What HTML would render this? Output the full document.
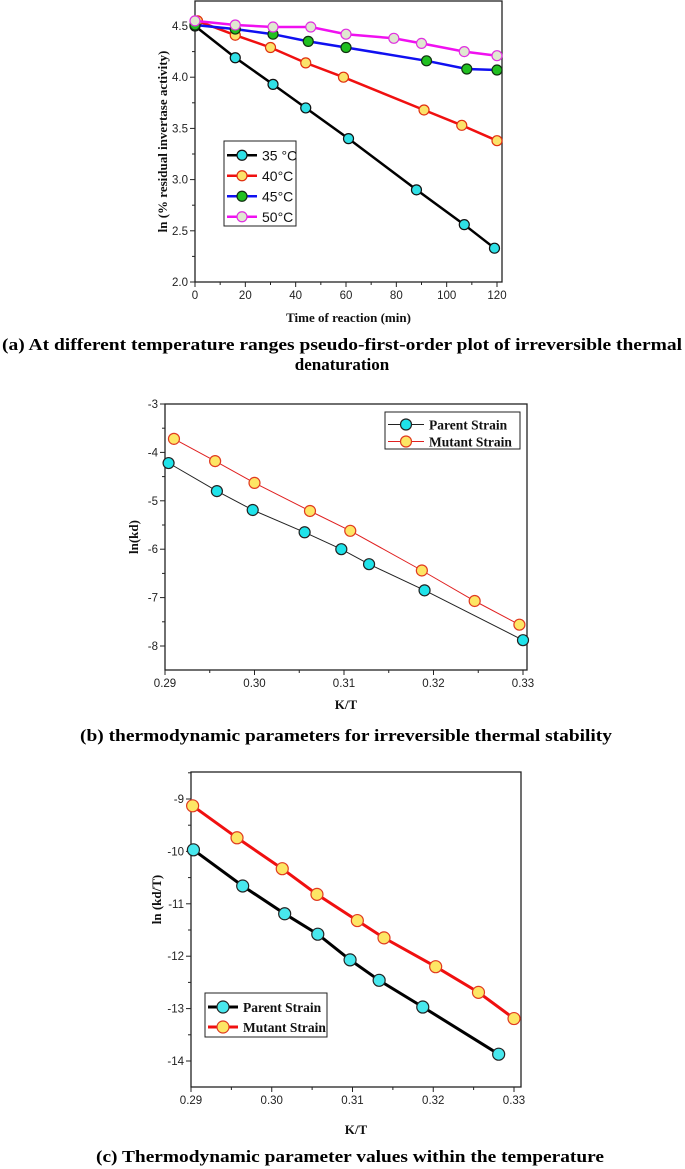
<!DOCTYPE html>
<html><head><meta charset="utf-8">
<style>
html,body{margin:0;padding:0;background:#fff;}
svg{display:block;}
.tk{font-family:"Liberation Sans",Arial,sans-serif;font-size:11.5px;fill:#222;}
.ttl{font-family:"Liberation Serif",serif;font-weight:bold;font-size:13px;fill:#111;}
.cap{font-family:"Liberation Serif",serif;font-weight:bold;font-size:17px;fill:#000;}
.lg{font-family:"Liberation Sans",Arial,sans-serif;font-size:14px;fill:#111;}
.lgs{font-family:"Liberation Serif",serif;font-weight:bold;font-size:13.5px;fill:#111;}
</style></head>
<body>
<svg id="fig" width="685" height="1169" viewBox="0 0 685 1169" xmlns="http://www.w3.org/2000/svg">
<g id="chartA"></g>
<g id="chartB"></g>
<g id="chartC"></g>
<text class="cap" x="342" y="350" text-anchor="middle" textLength="680" lengthAdjust="spacingAndGlyphs">(a)  At different temperature ranges pseudo-first-order plot of irreversible thermal</text>
<text class="cap" x="342" y="370" text-anchor="middle">denaturation</text>
<text class="cap" x="346" y="741" text-anchor="middle" textLength="532" lengthAdjust="spacingAndGlyphs">(b) thermodynamic parameters for irreversible thermal stability</text>
<text class="cap" x="350" y="1162" text-anchor="middle" textLength="508" lengthAdjust="spacingAndGlyphs">(c) Thermodynamic parameter values within the temperature</text>
</svg>
<script>
// ---- Chart A data ----
const aX35=[0,16,31,44,61,88,107,119];
const aY35=[4.5,4.19,3.93,3.70,3.40,2.90,2.56,2.33];
const aX40=[1,16,30,44,59,91,106,120];
const aY40=[4.55,4.41,4.29,4.14,4.0,3.68,3.53,3.38];
const aX45=[0,16,31,45,60,92,108,120];
const aY45=[4.51,4.47,4.42,4.35,4.29,4.16,4.08,4.07];
const aX50=[0,16,31,46,60,79,90,107,120];
const aY50=[4.55,4.51,4.49,4.49,4.42,4.38,4.33,4.25,4.21];
const aXTicks=[0,20,40,60,80,100,120];
const aYTicks=[2.0,2.5,3.0,3.5,4.0,4.5];
// ---- Chart B data ----
const bXP=[0.2904,0.2958,0.2998,0.3056,0.3097,0.3128,0.3190,0.3300];
const bYP=[-4.22,-4.80,-5.19,-5.65,-6.00,-6.31,-6.85,-7.88];
const bXM=[0.2910,0.2956,0.3000,0.3062,0.3107,0.3187,0.3246,0.3296];
const bYM=[-3.72,-4.18,-4.63,-5.21,-5.62,-6.44,-7.07,-7.56];
const bXTicks=[0.29,0.30,0.31,0.32,0.33];
const bYTicks=[-3,-4,-5,-6,-7,-8];
// ---- Chart C data ----
const cXP=[0.2903,0.2964,0.3016,0.3057,0.3097,0.3133,0.3187,0.3281];
const cYP=[-9.97,-10.66,-11.19,-11.58,-12.07,-12.46,-12.97,-13.87];
const cXM=[0.2902,0.2957,0.3013,0.3056,0.3106,0.3139,0.3203,0.3256,0.3300];
const cYM=[-9.13,-9.74,-10.33,-10.82,-11.32,-11.65,-12.20,-12.69,-13.19];
const cXTicks=[0.29,0.30,0.31,0.32,0.33];
const cYTicks=[-9,-10,-11,-12,-13,-14];

const NS="http://www.w3.org/2000/svg";
function mk(tag,attrs,parent){const e=document.createElementNS(NS,tag);for(const k in attrs)e.setAttribute(k,attrs[k]);parent.appendChild(e);return e;}
function lin(d0,d1,r0,r1){return v=>r0+(v-d0)*(r1-r0)/(d1-d0);}

function axes(g,o){
  const box=mk('rect',{x:o.L,y:o.T,width:o.R-o.L,height:o.B-o.T,fill:'none',stroke:'#222','stroke-width':1.3},g);
  
  
  o.xt.forEach((v,i)=>{
    const x=o.sx(v);
    const t=mk('line',{x1:x,x2:x,y1:o.B,y2:o.B+5,stroke:'#222','stroke-width':1},g);
    
    
    const lb=mk('text',{x:x,y:o.B+17,'text-anchor':'middle',class:'tk'},g);
    lb.textContent=o.xf(v);
    
    
    if(i<o.xt.length-1){const xm=o.sx((v+o.xt[i+1])/2);
      const m=mk('line',{x1:xm,x2:xm,y1:o.B,y2:o.B+3,stroke:'#222'},g);
      
      }
  });
  o.yt.forEach((v,i)=>{
    const y=o.sy(v);
    const t=mk('line',{x1:o.L-5,x2:o.L,y1:y,y2:y,stroke:'#222'},g);
    
    
    const lb=mk('text',{x:o.L-7,y:y+4,'text-anchor':'end',class:'tk'},g);
    lb.textContent=o.yf(v);
    
    
    const step=(o.yt.length>1)?(o.yt[1]-o.yt[0]):0;
    const ym=o.sy(v+step/2);
    if(ym>=o.T&&ym<=o.B){const m=mk('line',{x1:o.L-3,x2:o.L,y1:ym,y2:ym,stroke:'#222'},g);
      
      }
    if(i===0){const ym2=o.sy(v-step/2);
      if(ym2>=o.T&&ym2<=o.B){const m=mk('line',{x1:o.L-3,x2:o.L,y1:ym2,y2:ym2,stroke:'#222'},g);
      
      }}
  });
  const xt=mk('text',{x:(o.L+o.R)/2,y:o.xty,'text-anchor':'middle',class:'ttl'},g);
  xt.textContent=o.xtitle;
  
  
  const yt=mk('text',{x:0,y:0,'text-anchor':'middle',class:'ttl',transform:`translate(${o.ytx},${(o.T+o.B)/2+o.ytdy}) rotate(-90)`},g);
  yt.textContent=o.ytitle;
  
  
}
function series(g,xs,ys,sx,sy,line,lw,fill,stroke,r,name){
  const pts=xs.map((x,i)=>sx(x).toFixed(1)+','+sy(ys[i]).toFixed(1)).join(' ');
  const pl=mk('polyline',{points:pts,fill:'none',stroke:line,'stroke-width':lw},g);
  
  
  xs.forEach((x,i)=>{
    const c=mk('circle',{cx:sx(x),cy:sy(ys[i]),r:r,fill:fill,stroke:stroke,'stroke-width':1.2},g);
    
    
  });
}
function legend(g,x,y,w,h,items,cls,lineLen,r,lw,gap){
  const b=mk('rect',{x:x,y:y,width:w,height:h,fill:'#fff',stroke:'#222','stroke-width':1},g);
  
  
  items.forEach((it,i)=>{
    const yy=y+gap/2+4+i*gap;
    const l=mk('line',{x1:x+3,x2:x+3+lineLen,y1:yy,y2:yy,stroke:it.line,'stroke-width':lw},g);
    
    
    const c=mk('circle',{cx:x+3+lineLen/2,cy:yy,r:r,fill:it.fill,stroke:it.stroke,'stroke-width':1.2},g);
    
    
    const t=mk('text',{x:x+8+lineLen,y:yy+5,class:cls},g);
    t.textContent=it.label;
    
    
  });
}

// Chart A
(function(){
  const g=document.getElementById('chartA');
  const o={L:195,R:502,T:1,B:282};
  o.sx=lin(0,120,195,497); o.sy=lin(2.0,4.5,282,26);
  o.xt=aXTicks; o.yt=aYTicks; o.xf=v=>String(v); o.yf=v=>v.toFixed(1);
  o.xtitle='Time of reaction (min)'; o.xty=322; o.ytitle='ln (% residual invertase activity)'; o.ytx=167; o.ytdy=0;
  axes(g,o);
  series(g,aX35,aY35,o.sx,o.sy,'#000',2.5,'#2fe0e6','#111',5,'series-35c');
  series(g,aX40,aY40,o.sx,o.sy,'#f01010',2.5,'#fbe36a','#e03010',5,'series-40c');
  series(g,aX45,aY45,o.sx,o.sy,'#1010f0',2.5,'#20c020','#103010',5,'series-45c');
  series(g,aX50,aY50,o.sx,o.sy,'#f010f0',2.5,'#dfe8d0','#e030e0',5,'series-50c');
  legend(g,224,141,72,85,[
    {label:'35 °C',line:'#000',fill:'#2fe0e6',stroke:'#111'},
    {label:'40°C',line:'#f01010',fill:'#fbe36a',stroke:'#e03010'},
    {label:'45°C',line:'#1010f0',fill:'#20c020',stroke:'#103010'},
    {label:'50°C',line:'#f010f0',fill:'#dfe8d0',stroke:'#e030e0'}],'lg',30,5,2.5,20.5);
})();
// Chart B
(function(){
  const g=document.getElementById('chartB');
  const o={L:165,R:527,T:404,B:670};
  o.sx=lin(0.29,0.33,165,523); o.sy=lin(-3,-8,404,646);
  o.xt=bXTicks; o.yt=bYTicks; o.xf=v=>v.toFixed(2); o.yf=v=>String(v);
  o.xtitle='K/T'; o.xty=709; o.ytitle='ln(kd)'; o.ytx=138; o.ytdy=0;
  axes(g,o);
  series(g,bXP,bYP,o.sx,o.sy,'#222',1,'#1fe3ea','#222',5.5,'parent-strain');
  series(g,bXM,bYM,o.sx,o.sy,'#e02020',1,'#fde665','#e03a20',5.5,'mutant-strain');
  legend(g,385,412,135,37,[
    {label:'Parent Strain',line:'#222',fill:'#1fe3ea',stroke:'#222'},
    {label:'Mutant Strain',line:'#e02020',fill:'#fde665',stroke:'#e03a20'}],'lgs',36,5.5,1,17);
})();
// Chart C
(function(){
  const g=document.getElementById('chartC');
  const o={L:191,R:521,T:772,B:1087};
  o.sx=lin(0.29,0.33,191,514); o.sy=lin(-9,-14,799,1061);
  o.xt=cXTicks; o.yt=cYTicks; o.xf=v=>v.toFixed(2); o.yf=v=>String(v);
  o.xtitle='K/T'; o.xty=1134; o.ytitle='ln (kd/T)'; o.ytx=161; o.ytdy=-30;
  axes(g,o);
  series(g,cXP,cYP,o.sx,o.sy,'#000',3,'#48e8ee','#222',6,'parent-strain');
  series(g,cXM,cYM,o.sx,o.sy,'#f01010',3,'#fde665','#e03a20',6,'mutant-strain');
  legend(g,205,993,122,44,[
    {label:'Parent Strain',line:'#000',fill:'#48e8ee',stroke:'#222'},
    {label:'Mutant Strain',line:'#f01010',fill:'#fde665',stroke:'#e03a20'}],'lgs',30,6,3,20);
})();
</script>
</body></html>
